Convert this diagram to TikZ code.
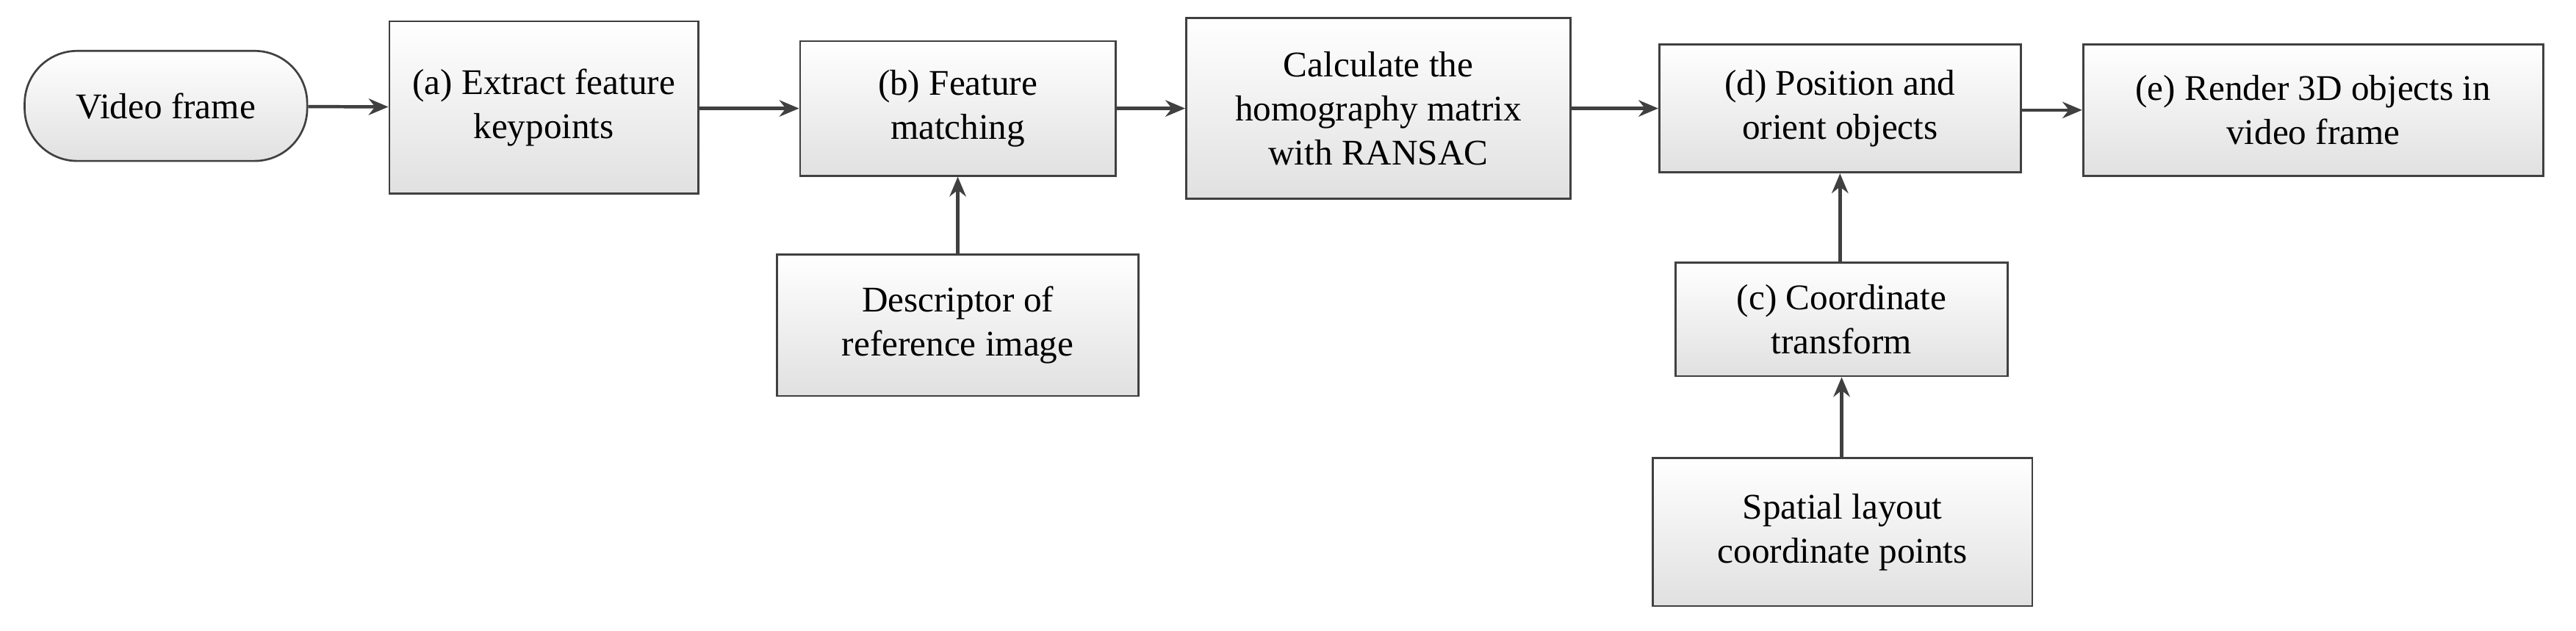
\documentclass[tikz,border=0pt]{standalone}
\usepackage{fontspec}
\setmainfont{Liberation Serif}
\usetikzlibrary{arrows.meta}
\begin{document}
\begin{tikzpicture}[x=0.5pt,y=-0.5pt,
  box/.style={draw=black!75,line width=0.6pt,top color=white,bottom color=black!12,align=center,
    font=\fontsize{11pt}{13.5pt}\selectfont,inner sep=0pt},
  arr/.style={draw=black!75,line width=1pt,-{Stealth[length=6pt,width=5pt]}}]
\useasboundingbox (0,0) rectangle (1568,384);
\node[box,rounded corners=16pt,minimum width=86pt,minimum height=33.5pt] (vf) at (101,64.5) {Video frame};
\node[box,minimum width=94pt,minimum height=52.5pt] (a) at (331,65.5) {(a) Extract feature\\keypoints};
\node[box,minimum width=96pt,minimum height=41pt] (b) at (583,66) {(b) Feature\\matching};
\node[box,minimum width=117pt,minimum height=55pt] (h) at (839,66) {Calculate the\\homography matrix\\with RANSAC};
\node[box,minimum width=110pt,minimum height=39pt] (d) at (1120,66) {(d) Position and\\orient objects};
\node[box,minimum width=140pt,minimum height=40pt] (e) at (1408,67) {(e) Render 3D objects in\\video frame};
\node[box,minimum width=110pt,minimum height=43pt] (r) at (583,198) {Descriptor of\\reference image};
\node[box,minimum width=101pt,minimum height=34.5pt] (c) at (1121,194.5) {(c) Coordinate\\transform};
\node[box,minimum width=115.5pt,minimum height=45pt] (s) at (1121.5,324) {Spatial layout\\coordinate points};
\draw[arr] (vf) -- (a);
\draw[arr] (a.east|-b) -- (b);
\draw[arr] (b) -- (h.west|-b);
\draw[arr] (h) -- (d);
\draw[arr] (d.east|-e) -- (e);
\draw[arr] (r) -- (b);
\draw[arr] (c.north-|d) -- (d.south);
\draw[arr] (s.north-|c) -- (c.south);
\end{tikzpicture}
\end{document}
